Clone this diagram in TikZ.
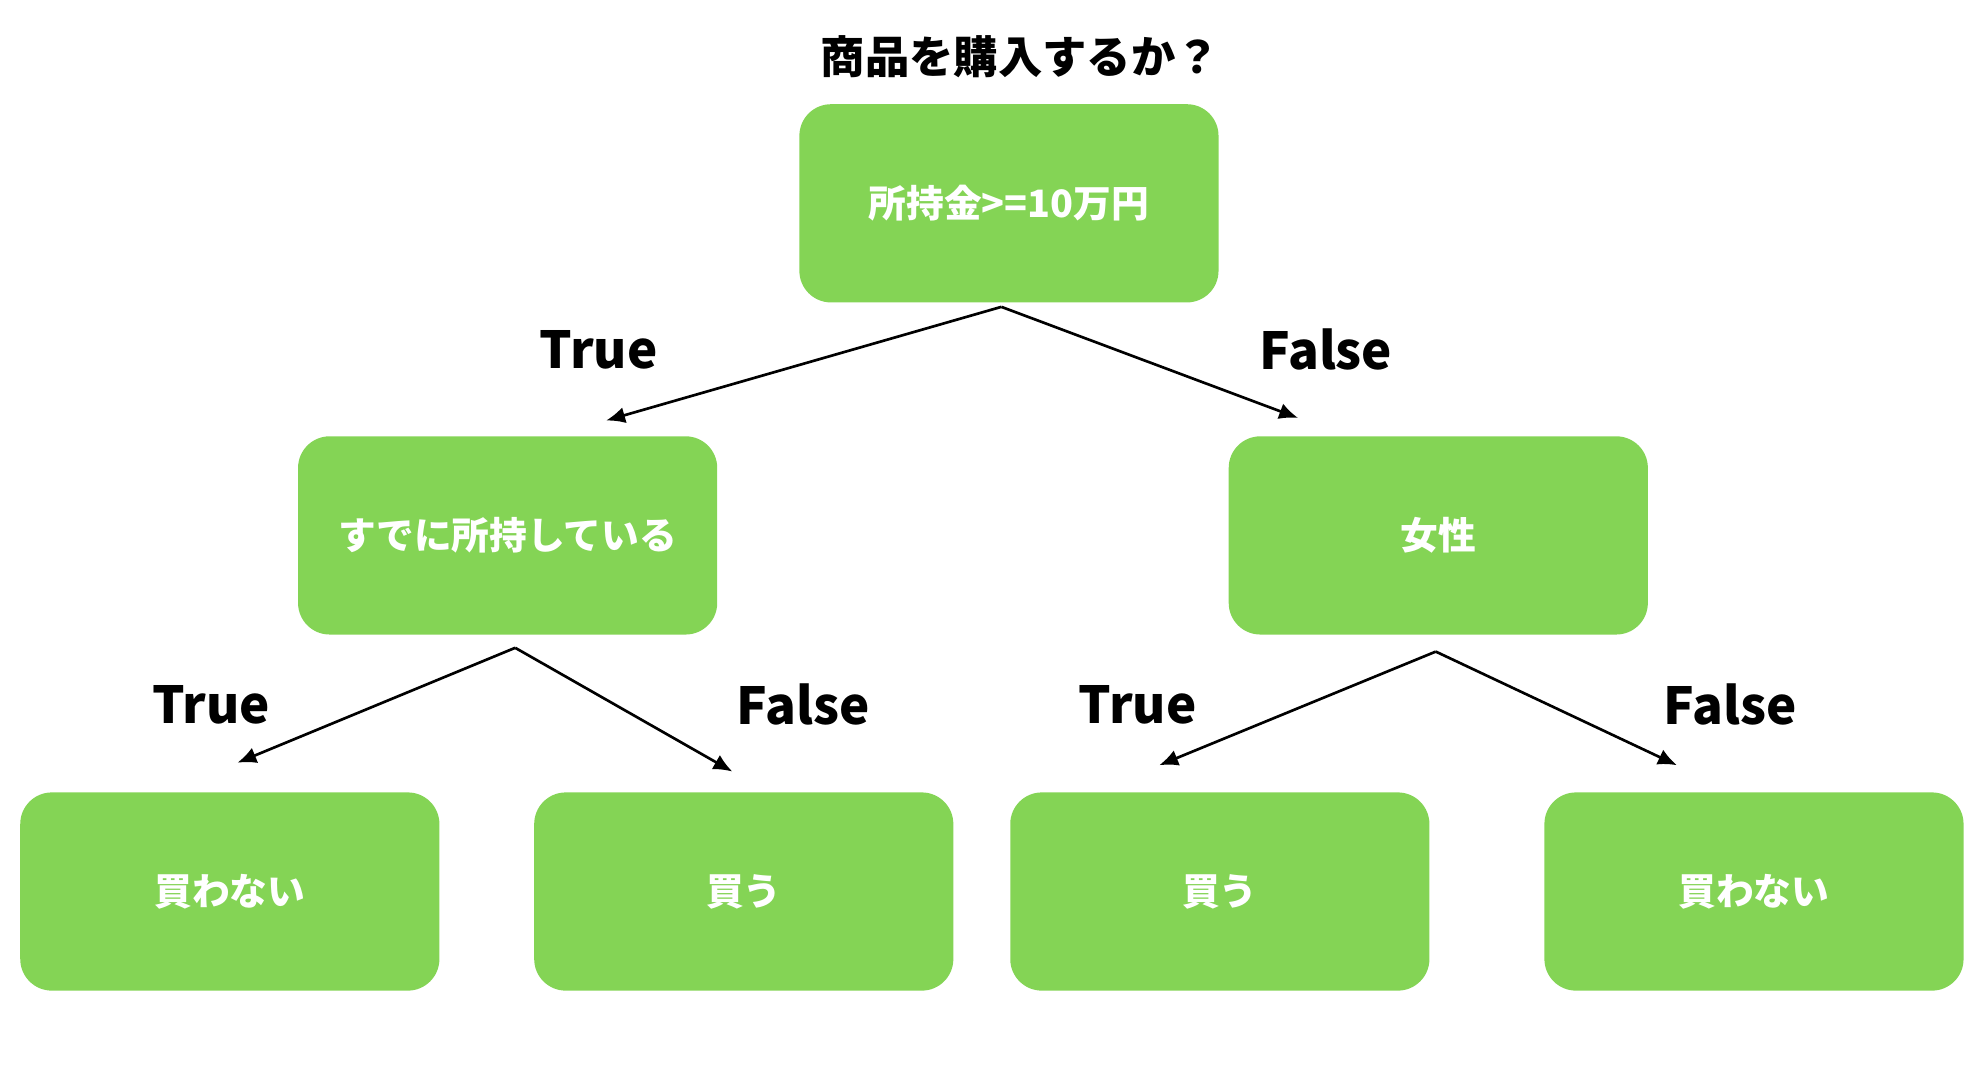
\documentclass[tikz,border=0pt]{standalone}
\usepackage{fontspec}
\setmainfont{Noto Sans CJK JP}
\usetikzlibrary{arrows.meta}
\definecolor{leaf}{HTML}{84D455}
\begin{document}
\begin{tikzpicture}[x=0.02cm, y=-0.02cm, thick,
    box/.style = {fill=leaf, rounded corners=0.5cm, minimum width=6.64cm, minimum height=3.14cm, text=white, font=\bfseries\fontsize{17}{20}\selectfont},
    lbl/.style = {font=\bfseries\fontsize{23}{26}\selectfont},
    arr/.style = {-{Latex[length=3mm,width=2.6mm]}, line width=1.2pt}]
        \useasboundingbox (0,0) rectangle (1568,863);
        \node[font=\bfseries\fontsize{20}{24}\selectfont] (title) at (808,45) {商品を購入するか？};

        \node[box] (root) at (799,161) {所持金>=10万円};
        \node[box] (owned) at (402,424) {すでに所持している};
        \node[box] (female) at (1139,424) {女性};
        \node[box] (A) at (182,706) {買わない};
        \node[box] (B) at (589,706) {買う};
        \node[box] (C) at (966,706) {買う};
        \node[box] (D) at (1389,706) {買わない};

        \coordinate (r0) at (793,243);
        \coordinate (r1) at (480,333);
        \coordinate (r2) at (1028,331);
        \coordinate (o0) at (408,513);
        \coordinate (o1) at (188,604);
        \coordinate (o2) at (580,611);
        \coordinate (f0) at (1137,516);
        \coordinate (f1) at (918,606);
        \coordinate (f2) at (1328,606);

        \draw[arr] (r0) -- (r1);
        \draw[arr] (r0) -- (r2);
        \draw[arr] (o0) -- (o1);
        \draw[arr] (o0) -- (o2);
        \draw[arr] (f0) -- (f1);
        \draw[arr] (f0) -- (f2);

        \node[lbl] (t1) at (474,277) {True};
        \node[lbl] (f1l) at (1050,277) {False};
        \node[lbl] (t2) at (167,558) {True};
        \node[lbl] (f2l) at (636,558) {False};
        \node[lbl] (t3) at (901,558) {True};
        \node[lbl] (f3l) at (1370,558) {False};
\end{tikzpicture}
\end{document}
